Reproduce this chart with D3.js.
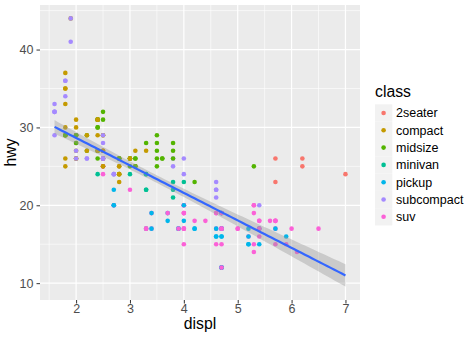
<!DOCTYPE html>
<html><head><meta charset="utf-8">
<script src="https://cdn.jsdelivr.net/npm/d3@7"></script>
<style>body{margin:0;background:#fff}svg{display:block}text{font-family:"Liberation Sans",Arial,sans-serif}</style>
</head><body><svg id="c" width="474" height="338"></svg>
<script>
const displ=[1.8,1.8,2.0,2.0,2.8,2.8,3.1,1.8,1.8,2.0,2.0,2.8,2.8,3.1,3.1,2.8,3.1,4.2,5.3,5.3,5.3,5.7,6.0,5.7,5.7,6.2,6.2,7.0,5.3,5.3,5.7,6.5,2.4,2.4,3.1,3.5,3.6,2.4,3.0,3.3,3.3,3.3,3.3,3.3,3.8,3.8,3.8,4.0,3.7,3.7,3.9,3.9,4.7,4.7,4.7,5.2,5.2,3.9,4.7,4.7,4.7,5.2,5.7,5.9,4.7,4.7,4.7,4.7,4.7,4.7,5.2,5.2,5.7,5.9,4.6,5.4,5.4,4.0,4.0,4.0,4.0,4.6,5.0,4.2,4.2,4.6,4.6,4.6,5.4,5.4,3.8,3.8,4.0,4.0,4.6,4.6,4.6,4.6,5.4,1.6,1.6,1.6,1.6,1.6,1.8,1.8,1.8,2.0,2.4,2.4,2.4,2.4,2.5,2.5,3.3,2.0,2.0,2.0,2.0,2.7,2.7,2.7,3.0,3.7,4.0,4.7,4.7,4.7,5.7,6.1,4.0,4.2,4.4,4.6,5.4,5.4,5.4,4.0,4.0,4.6,5.0,2.4,2.4,2.5,2.5,3.5,3.5,3.0,3.0,3.5,3.3,3.3,4.0,5.6,3.1,3.8,3.8,3.8,5.3,2.5,2.5,2.5,2.5,2.5,2.5,2.2,2.2,2.5,2.5,2.5,2.5,2.5,2.5,2.7,2.7,3.4,3.4,4.0,4.7,2.2,2.2,2.4,2.4,3.0,3.0,3.5,2.2,2.2,2.4,2.4,3.0,3.0,3.3,1.8,1.8,1.8,1.8,1.8,4.7,5.7,2.7,2.7,2.7,3.4,3.4,4.0,4.0,2.0,2.0,2.0,2.0,2.8,1.9,2.0,2.0,2.0,2.0,2.5,2.5,2.8,2.8,1.9,1.9,2.0,2.0,2.5,2.5,1.8,1.8,2.0,2.0,2.8,2.8,3.6];
const hwy=[29,29,31,30,26,26,27,26,25,28,27,25,25,25,25,24,25,23,20,15,20,17,17,26,23,26,25,24,19,14,15,17,27,30,26,29,26,24,24,22,22,24,24,17,22,21,23,23,19,18,17,17,19,19,12,17,15,17,17,12,17,16,18,15,16,12,17,17,16,12,15,16,17,16,17,17,18,17,19,17,19,19,17,17,17,16,16,17,15,17,26,25,26,24,21,22,23,22,20,33,32,32,29,32,34,36,36,29,26,27,30,31,26,26,28,26,29,28,27,24,24,24,22,19,20,17,12,19,18,14,15,18,18,15,17,16,18,17,19,19,17,29,27,31,32,27,26,26,25,25,17,17,20,18,26,26,27,28,25,27,26,26,25,24,25,26,26,26,26,25,27,25,27,20,20,19,17,20,17,29,27,31,31,26,26,28,27,29,31,31,26,26,27,30,33,35,37,35,15,18,20,20,22,17,19,18,20,29,26,29,29,24,44,29,26,29,29,29,29,23,24,44,41,29,26,28,29,29,29,28,29,26,26,26];
const classCounts=[["compact",15],["midsize",3],["suv",5],["2seater",5],["suv",4],["midsize",5],["minivan",11],["pickup",9],["suv",7],["pickup",10],["suv",9],["pickup",7],["subcompact",18],["midsize",7],["subcompact",7],["suv",19],["compact",2],["midsize",7],["suv",4],["midsize",5],["suv",6],["subcompact",4],["compact",4],["suv",6],["midsize",7],["compact",12],["suv",2],["pickup",7],["compact",14],["subcompact",6],["midsize",7]];
const classes=["2seater","compact","midsize","minivan","pickup","subcompact","suv"];
const colors=["#F8766D","#C49A00","#53B400","#00C094","#00B6EB","#A58AFF","#FB61D7"];
const xTicks=[2,3,4,5,6,7], yTicks=[10,20,30,40];

const cls=[]; classCounts.forEach(([c,n])=>{for(let i=0;i<n;i++)cls.push(c);});
const data=displ.map((d,i)=>({x:d,y:hwy[i],c:cls[i]}));

// linear model with 95% CI
const n=data.length, mx=d3.mean(displ), my=d3.mean(hwy);
let sxx=0,sxy=0; data.forEach(d=>{sxx+=(d.x-mx)**2;sxy+=(d.x-mx)*(d.y-my);});
const b=sxy/sxx, a=my-b*mx;
let sse=0; data.forEach(d=>{sse+=(d.y-a-b*d.x)**2;});
const s=Math.sqrt(sse/(n-2)), tq=1.9703;
const xmin=d3.min(displ), xmax=d3.max(displ);
const fit=d3.range(80).map(i=>{const x=xmin+(xmax-xmin)*i/79;const f=a+b*x;const se=s*Math.sqrt(1/n+(x-mx)**2/sxx);return {x,f,lo:f-tq*se,hi:f+tq*se};});

const L=40,R=360,T=5,B=300;
const xr=[xmin,xmax], xp=(xr[1]-xr[0])*0.05;
const yl=Math.min(d3.min(hwy),d3.min(fit,d=>d.lo)), yh=Math.max(d3.max(hwy),d3.max(fit,d=>d.hi)), yp=(yh-yl)*0.05;
const x=d3.scaleLinear().domain([xr[0]-xp,xr[1]+xp]).range([L,R]);
const y=d3.scaleLinear().domain([yl-yp,yh+yp]).range([B,T]);
const svg=d3.select("#c");
svg.append("rect").attr("x",L).attr("y",T).attr("width",R-L).attr("height",B-T).attr("fill","#EBEBEB");
const g=svg.append("g");
const xMinor=[1.5,2.5,3.5,4.5,5.5,6.5], yMinor=[15,25,35,45];
xMinor.forEach(v=>{if(x(v)>L&&x(v)<R)g.append("line").attr("x1",x(v)).attr("x2",x(v)).attr("y1",T).attr("y2",B).attr("stroke","#fff").attr("stroke-width",0.6);});
yMinor.forEach(v=>{if(y(v)>T&&y(v)<B)g.append("line").attr("y1",y(v)).attr("y2",y(v)).attr("x1",L).attr("x2",R).attr("stroke","#fff").attr("stroke-width",0.6);});
xTicks.forEach(v=>g.append("line").attr("x1",x(v)).attr("x2",x(v)).attr("y1",T).attr("y2",B).attr("stroke","#fff").attr("stroke-width",1.2));
yTicks.forEach(v=>g.append("line").attr("y1",y(v)).attr("y2",y(v)).attr("x1",L).attr("x2",R).attr("stroke","#fff").attr("stroke-width",1.2));

const col=d3.scaleOrdinal().domain(classes).range(colors);
svg.append("g").selectAll("circle").data(data).join("circle")
 .attr("cx",d=>x(d.x)).attr("cy",d=>y(d.y)).attr("r",2.3).attr("fill",d=>col(d.c));

svg.append("path").datum(fit).attr("d",d3.area().x(d=>x(d.x)).y0(d=>y(d.lo)).y1(d=>y(d.hi))).attr("fill","#999").attr("fill-opacity",0.4);
svg.append("path").datum(fit).attr("d",d3.line().x(d=>x(d.x)).y(d=>y(d.f))).attr("fill","none").attr("stroke","#3366FF").attr("stroke-width",2.2);

const xa=svg.append("g").attr("transform",`translate(0,${B})`).call(d3.axisBottom(x).tickValues(xTicks).tickSize(3.5).tickPadding(1).tickFormat(d3.format("d")));
const ya=svg.append("g").attr("transform",`translate(${L},0)`).call(d3.axisLeft(y).tickValues(yTicks).tickSize(3.5).tickPadding(3).tickFormat(d3.format("d")));
[xa,ya].forEach(ax=>{ax.select(".domain").remove();ax.selectAll("line").attr("stroke","#333");ax.selectAll("text").attr("fill","#4D4D4D").style("font-size","12.5px").style("font-family","'Liberation Sans',Arial,sans-serif");});

svg.append("text").attr("x",(L+R)/2).attr("y",329).attr("text-anchor","middle").style("font-size","15.8px").text("displ");
svg.append("text").attr("transform",`translate(16,${(T+B)/2}) rotate(-90)`).attr("text-anchor","middle").style("font-size","15.8px").text("hwy");

const lg=svg.append("g");
lg.append("text").attr("x",375).attr("y",97).style("font-size","15.8px").text("class");
classes.forEach((c,i)=>{
 const cy=113+i*17.3;
 lg.append("rect").attr("x",375).attr("y",cy-8.65).attr("width",17.3).attr("height",17.3).attr("fill","#F2F2F2");
 lg.append("circle").attr("cx",383.6).attr("cy",cy).attr("r",2.3).attr("fill",colors[i]);
 lg.append("text").attr("x",396).attr("y",cy+4.4).style("font-size","12.5px").attr("fill","#000").text(c);
});
</script></body></html>
